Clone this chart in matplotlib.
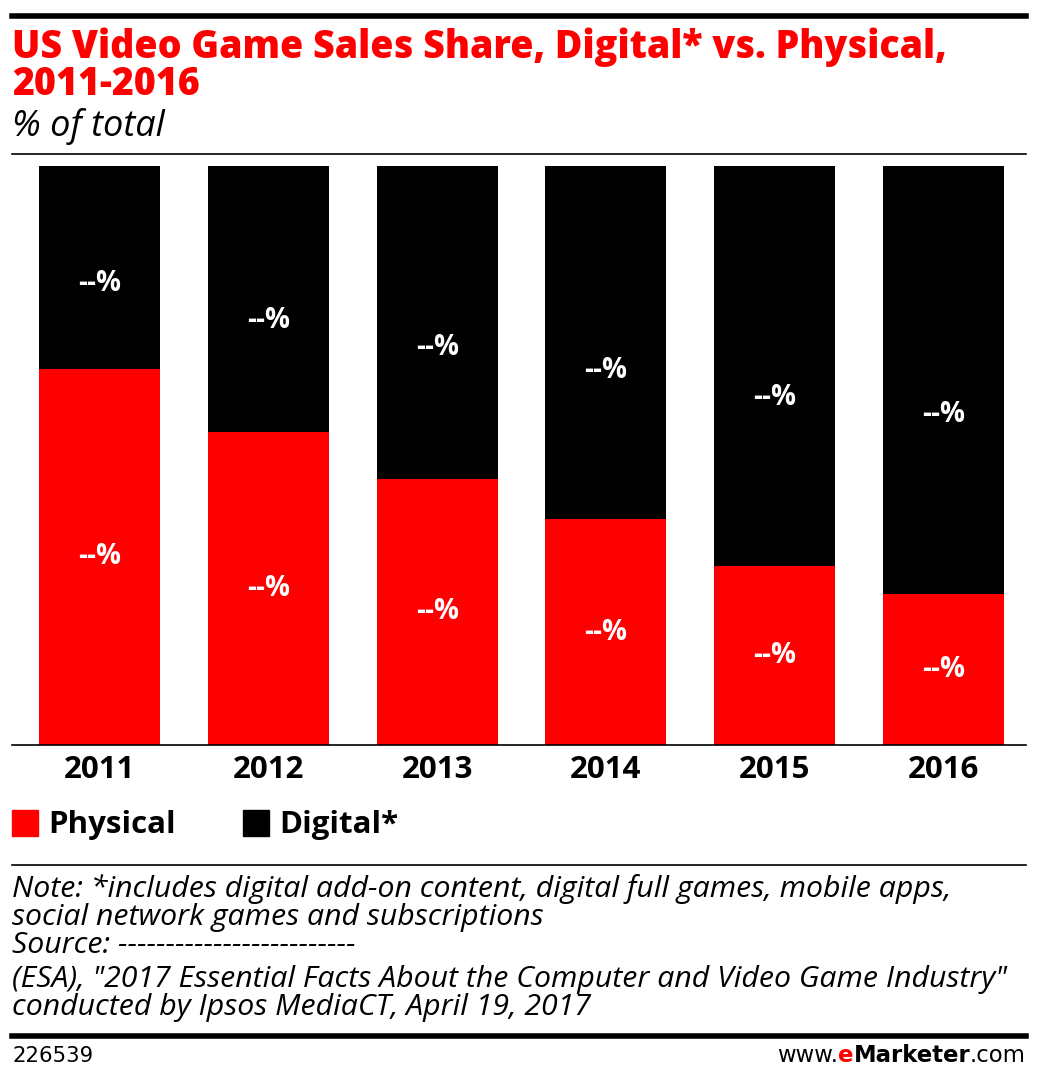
import matplotlib.pyplot as plt

years = ['2011', '2012', '2013', '2014', '2015', '2016']
physical = [65, 54, 46, 39, 31, 26]
digital = [35, 46, 54, 61, 69, 74]
physical_labels = ['--%'] * 6
digital_labels = ['--%'] * 6

RED = '#ff0000'
W, H = 1038, 1083

fig = plt.figure(figsize=(W / 100, H / 100), dpi=100)
fig.patch.set_facecolor('white')


def fy(py):
    return 1 - py / H


def fx(px):
    return px / W


def hline(py, lw, color='black'):
    fig.add_artist(plt.Line2D([fx(12), fx(1026)], [fy(py), fy(py)], lw=lw, color=color,
                              transform=fig.transFigure))


# header
hline(16, 4.0)
fig.text(fx(12), fy(58), 'US Video Game Sales Share, Digital* vs. Physical,', color=RED,
         fontsize=27, fontweight='heavy', family='Open Sans', va='baseline')
fig.text(fx(12), fy(95), '2011-2016', color=RED,
         fontsize=27, fontweight='heavy', family='Open Sans', va='baseline')
fig.text(fx(12), fy(136), '% of total', fontsize=26, style='italic',
         family='Open Sans', va='baseline')
hline(154, 1.2)

# bars
ax = fig.add_axes([fx(12), fy(745), fx(1026) - fx(12), fy(166) - fy(745)])
x = range(len(years))
ax.bar(x, physical, width=0.716, color=RED)
ax.bar(x, digital, bottom=physical, width=0.716, color='black')
for i in x:
    ax.text(i, physical[i] / 2, physical_labels[i], color='white', fontsize=20,
            fontweight='bold', family='Open Sans', ha='center', va='center')
    ax.text(i, physical[i] + digital[i] * 0.42, digital_labels[i], color='white', fontsize=20,
            fontweight='bold', family='Open Sans', ha='center', va='center')
ax.set_xlim(-0.52, 5.49)
ax.set_ylim(0, 100)
for s in ['top', 'left', 'right']:
    ax.spines[s].set_visible(False)
ax.spines['bottom'].set_linewidth(1.2)
ax.set_yticks([])
ax.set_xticks(list(x))
ax.set_xticklabels(years, fontsize=22.5, fontweight='bold', family='Open Sans')
ax.tick_params(axis='x', length=0, pad=7)

# legend
fig.patches.append(plt.Rectangle((fx(12), fy(836)), fx(26), fy(810) - fy(836), color=RED,
                                 transform=fig.transFigure))
fig.text(fx(48), fy(833), 'Physical', fontsize=22.5, fontweight='bold', family='Open Sans',
         va='baseline')
fig.patches.append(plt.Rectangle((fx(243), fy(836)), fx(26), fy(810) - fy(836), color='black',
                                 transform=fig.transFigure))
fig.text(fx(279), fy(833), 'Digital*', fontsize=22.5, fontweight='bold', family='Open Sans',
         va='baseline')

# notes
hline(865, 1.2)
notes = [
    (897, 'Note: *includes digital add-on content, digital full games, mobile apps,'),
    (925, 'social network games and subscriptions'),
    (953, 'Source: -------------------------'),
    (987, '(ESA), "2017 Essential Facts About the Computer and Video Game Industry"'),
    (1015, 'conducted by Ipsos MediaCT, April 19, 2017'),
]
for py, t in notes:
    fig.text(fx(12), fy(py), t, fontsize=21.8, style='italic', family='Open Sans', va='baseline')

hline(1036, 4.0)
fig.text(fx(12), fy(1062), '226539', fontsize=15.3, family='Liberation Sans Narrow',
         va='baseline')
# footer brand with red "e"
FS = 16.4
t1 = fig.text(fx(1026), fy(1062), '.com', fontsize=FS, family='Liberation Sans Narrow',
              va='baseline', ha='right')
fig.canvas.draw()
r = fig.canvas.get_renderer()
bb = t1.get_window_extent(r)
t2 = fig.text(bb.x0 / W, fy(1062), 'Marketer', fontsize=FS, fontweight='bold',
              family='Liberation Sans Narrow', va='baseline', ha='right')
bb = t2.get_window_extent(r)
t3 = fig.text(bb.x0 / W, fy(1062), 'e', fontsize=FS, fontweight='bold', color=RED,
              family='Liberation Sans Narrow', va='baseline', ha='right')
bb = t3.get_window_extent(r)
fig.text(bb.x0 / W, fy(1062), 'www.', fontsize=FS, family='Liberation Sans Narrow',
         va='baseline', ha='right')

fig.savefig('out.png', dpi=100)
